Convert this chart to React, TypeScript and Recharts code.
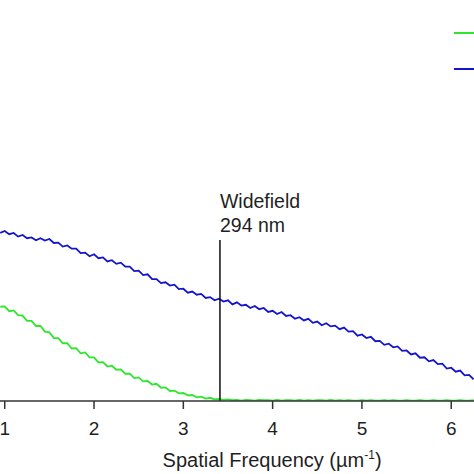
import React from 'react';
import { LineChart, Line, XAxis, YAxis, ReferenceLine, Legend } from 'recharts';

// spatial frequency (µm^-1), sampled every 0.05
const freq = [
  0.95, 1.0, 1.05, 1.1, 1.15, 1.2, 1.25, 1.3, 1.35, 1.4, 1.45, 1.5, 1.55, 1.6, 1.65, 1.7, 1.75, 1.8, 1.85,
  1.9, 1.95, 2.0, 2.05, 2.1, 2.15, 2.2, 2.25, 2.3, 2.35, 2.4, 2.45, 2.5, 2.55, 2.6, 2.65, 2.7, 2.75, 2.8, 2.85,
  2.9, 2.95, 3.0, 3.05, 3.1, 3.15, 3.2, 3.25, 3.3, 3.35, 3.4, 3.45, 3.5, 3.55, 3.6, 3.65, 3.7, 3.75, 3.8, 3.85,
  3.9, 3.95, 4.0, 4.05, 4.1, 4.15, 4.2, 4.25, 4.3, 4.35, 4.4, 4.45, 4.5, 4.55, 4.6, 4.65, 4.7, 4.75, 4.8, 4.85,
  4.9, 4.95, 5.0, 5.05, 5.1, 5.15, 5.2, 5.25, 5.3, 5.35, 5.4, 5.45, 5.5, 5.55, 5.6, 5.65, 5.7, 5.75, 5.8, 5.85,
  5.9, 5.95, 6.0, 6.05, 6.1, 6.15, 6.2, 6.25,
];

// widefield response (green)
const widefield = [
  23.5, 23.6, 22.4, 22.6, 21.4, 21.3, 20.0, 20.0, 18.7, 18.7, 17.3, 17.1, 15.7, 15.7, 14.4, 14.4, 13.1, 13.2, 11.9,
  12.1, 10.9, 10.9, 9.6, 9.7, 8.6, 8.8, 7.8, 7.9, 6.8, 6.8, 5.7, 5.9, 4.9, 5.0, 4.1, 4.3, 3.3, 3.4, 2.5,
  2.6, 1.9, 2.0, 1.4, 1.5, 0.9, 1.1, 0.6, 0.8, 0.4, 0.5, 0.3, 0.4, 0.2, 0.3, 0.1, 0.3, 0.2, 0.1, 0.3,
  0.2, 0.2, 0.1, 0.3, 0.1, 0.2, 0.2, 0.1, 0.3, 0.1, 0.2, 0.1, 0.2, 0.2, 0.1, 0.3, 0.1, 0.2, 0.1, 0.2,
  0.1, 0.1, 0.2, 0.1, 0.2, 0.1, 0.1, 0.2, 0.1, 0.2, 0.1, 0.1, 0.2, 0.1, 0.1, 0.2, 0.1, 0.1, 0.2, 0.1,
  0.1, 0.2, 0.1, 0.1, 0.2, 0.1, 0.1, 0.2,
];

// processed response (blue)
const processed = [
  41.9, 42.4, 41.6, 41.9, 41.0, 41.4, 40.6, 40.8, 40.1, 40.6, 40.0, 40.4, 39.4, 39.5, 38.5, 38.8, 38.0, 38.0, 36.9,
  37.0, 36.1, 36.6, 35.6, 35.8, 34.8, 35.1, 34.2, 34.5, 33.5, 33.5, 32.4, 32.5, 31.4, 31.6, 30.4, 30.4, 29.4, 29.6, 28.8,
  29.0, 27.9, 28.0, 27.0, 27.3, 26.5, 26.7, 25.7, 25.9, 25.1, 25.5, 24.8, 25.1, 24.1, 24.6, 23.8, 24.0, 23.2, 23.7, 22.9,
  23.2, 22.2, 22.5, 21.7, 22.2, 21.2, 21.4, 20.5, 20.9, 20.1, 20.5, 19.5, 19.8, 18.9, 19.4, 18.6, 18.8, 17.9, 18.3, 17.3,
  17.4, 16.3, 16.6, 15.7, 16.0, 14.9, 15.0, 14.0, 14.3, 13.4, 13.6, 12.5, 12.6, 11.6, 11.9, 10.8, 10.9, 9.9, 10.2, 9.2,
  9.3, 8.1, 8.3, 7.3, 7.6, 6.4, 6.5, 5.4,
];

const xTicks = [1, 2, 3, 4, 5, 6];
const legendOrder = ['widefield', 'processed'];
const cutoff = 3.41;
const cutoffTop = 40.15;

const data = freq.map((f, i) => ({ f, widefield: widefield[i], processed: processed[i] }));

const FONT = '"Liberation Sans", Arial, sans-serif';
const INK = '#1f1f1f';

function CutoffLabel(props: any) {
  const vb = props.viewBox || {};
  const x = vb.x ?? 0;
  const y = vb.y ?? 0;
  return (
    <text x={x} y={y} fontFamily={FONT} fontSize={19.5} fill={INK}>
      <tspan x={x} dy={-32}>Widefield</tspan>
      <tspan x={x} dy={24}>294 nm</tspan>
    </text>
  );
}

function AxisTitle(props: any) {
  const vb = props.viewBox || {};
  const x = (vb.x ?? 0) + (vb.width ?? 474) * 0.574;
  const y = (vb.y ?? 401) + 66;
  return (
    <text x={x} y={y} textAnchor="middle" fontFamily={FONT} fontSize={20} fill={INK}>
      <tspan>Spatial Frequency (µm</tspan>
      <tspan dy={-8} fontSize={12}>-1</tspan>
      <tspan dy={8}>)</tspan>
    </text>
  );
}

function LegendLines(props: any) {
  const items = [...(props.payload || [])].sort(
    (a: any, b: any) => legendOrder.indexOf(a.dataKey) - legendOrder.indexOf(b.dataKey)
  );
  return (
    <div style={{ position: 'relative', width: 474, height: 80 }}>
      {items.map((e: any, i: number) => (
        <div
          key={i}
          style={{ position: 'absolute', left: 454, top: 32 + i * 36, width: 20, height: 2, background: e.color }}
        />
      ))}
    </div>
  );
}

export default function App() {
  return (
    <div style={{ position: 'absolute', left: 0, top: 0, width: 474, height: 474, background: '#fff' }}>
      <LineChart width={474} height={474} data={data} margin={{ top: 0, right: 0, left: 0, bottom: 0 }}>
        <XAxis
          dataKey="f"
          type="number"
          domain={[0.947, 6.255]}
          allowDataOverflow
          ticks={xTicks}
          interval={0}
          height={73}
          stroke="#333"
          strokeWidth={1.5}
          tickSize={8}
          tickMargin={13}
          tick={{ fill: INK, fontSize: 19, fontFamily: FONT }}
          label={<AxisTitle />}
        />
        <YAxis hide type="number" domain={[0, 100]} allowDataOverflow />
        <Legend
          content={<LegendLines />}
          layout="horizontal"
          verticalAlign="middle"
          align="center"
          wrapperStyle={{ position: 'absolute', left: 0, top: 0, width: 474 }}
        />
        <Line
          dataKey="widefield"
          stroke="#2ee62e"
          strokeWidth={1.8}
          dot={false}
          activeDot={false}
          isAnimationActive={false}
        />
        <Line
          dataKey="processed"
          stroke="#1414cc"
          strokeWidth={1.8}
          dot={false}
          activeDot={false}
          isAnimationActive={false}
        />
        <ReferenceLine
          segment={[{ x: cutoff, y: 0 }, { x: cutoff, y: cutoffTop }]}
          stroke="#111"
          strokeWidth={1.5}
          ifOverflow="visible"
          label={<CutoffLabel />}
        />
      </LineChart>
    </div>
  );
}
